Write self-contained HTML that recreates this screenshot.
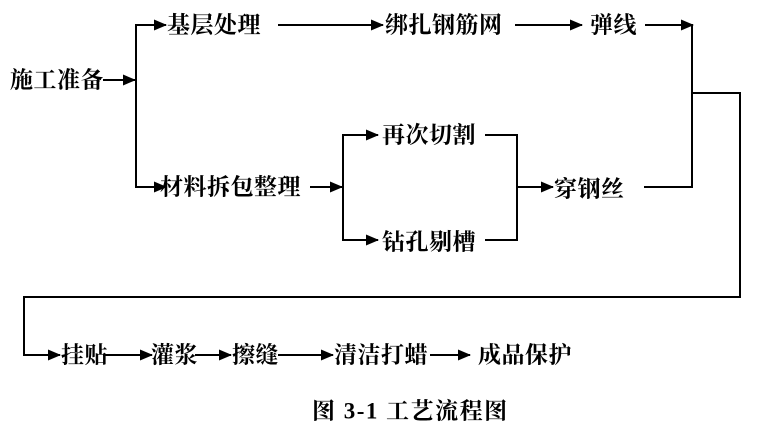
<!DOCTYPE html>
<html><head><meta charset="utf-8"><style>
html,body{margin:0;padding:0;background:#fff;}
svg text{font-family:"Liberation Serif","Noto Serif CJK SC",serif;font-weight:bold;font-size:23px;letter-spacing:0.5px;fill:#000;dominant-baseline:central;}
</style></head><body>
<svg width="760" height="427" viewBox="0 0 760 427" xmlns="http://www.w3.org/2000/svg">
<defs><marker id="a" markerWidth="13" markerHeight="11" refX="12" refY="5.5" orient="auto" markerUnits="userSpaceOnUse"><path d="M0,0 L13,5.5 L0,11 z" fill="#000"/></marker></defs>
<g stroke="#000" stroke-width="2" fill="none">
<line x1="103" y1="80" x2="135" y2="80" marker-end="url(#a)"/>
<line x1="136" y1="25" x2="136" y2="188"/>
<line x1="135" y1="25" x2="166" y2="25" marker-end="url(#a)"/>
<line x1="135" y1="187" x2="166" y2="187" marker-end="url(#a)"/>
<line x1="278" y1="25" x2="383" y2="25" marker-end="url(#a)"/>
<line x1="515" y1="25" x2="582" y2="25" marker-end="url(#a)"/>
<line x1="645" y1="25" x2="693" y2="25" marker-end="url(#a)"/>
<line x1="692" y1="24" x2="692" y2="188"/>
<line x1="644" y1="187" x2="693" y2="187"/>
<polyline points="692,93 740,93 740,297 24,297 24,355"/>
<line x1="310" y1="187" x2="342" y2="187" marker-end="url(#a)"/>
<line x1="343" y1="135" x2="343" y2="241"/>
<line x1="342" y1="135" x2="378" y2="135" marker-end="url(#a)"/>
<line x1="342" y1="240" x2="378" y2="240" marker-end="url(#a)"/>
<polyline points="485,135 517,135 517,240 485,240"/>
<line x1="517" y1="187" x2="553" y2="187" marker-end="url(#a)"/>
<line x1="23" y1="355" x2="60" y2="355" marker-end="url(#a)"/>
<line x1="103" y1="355" x2="152" y2="355" marker-end="url(#a)"/>
<line x1="195" y1="355" x2="231" y2="355" marker-end="url(#a)"/>
<line x1="278" y1="355" x2="333" y2="355" marker-end="url(#a)"/>
<line x1="430" y1="355" x2="470" y2="355" marker-end="url(#a)"/>
</g>
<text x="10" y="80">施工准备</text>
<text x="167" y="25">基层处理</text>
<text x="385" y="25">绑扎钢筋网</text>
<text x="590" y="25">弹线</text>
<text x="160" y="187">材料拆包整理</text>
<text x="382" y="135">再次切割</text>
<text x="382" y="242">钻孔剔槽</text>
<text x="554" y="189">穿钢丝</text>
<text x="61" y="355">挂贴</text>
<text x="151" y="355">灌浆</text>
<text x="232" y="355">擦缝</text>
<text x="334" y="355">清洁打蜡</text>
<text x="478" y="355">成品保护</text>
<text x="312" y="411" style="font-size:23px;letter-spacing:1.5px">图 3-1 工艺流程图</text>
</svg>
</body></html>
